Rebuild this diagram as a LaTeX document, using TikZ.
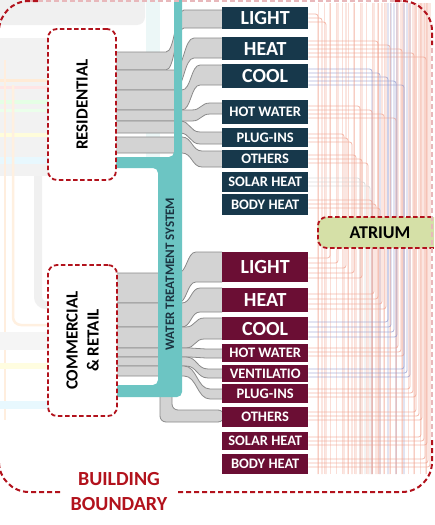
\documentclass[tikz,border=0pt]{standalone}
\usepackage{fontspec}
\setmainfont{Carlito}
\usetikzlibrary{calc}
\definecolor{navy}{HTML}{17384B}
\definecolor{maroon}{HTML}{6B0E34}
\definecolor{tealc}{HTML}{6CC5C3}
\definecolor{bred}{HTML}{B2121C}
\definecolor{gfill}{HTML}{D3D3D3}
\definecolor{gline}{HTML}{8A8A8A}
\definecolor{salm}{HTML}{F1A28E}
\definecolor{lav}{HTML}{929BD0}
\definecolor{atr}{HTML}{D5E0A7}
\definecolor{txtnavy}{HTML}{1B3340}
\newcommand\ribbon[7]{%
  \pgfmathsetmacro\rmx{(#4+#5)/2}%
  \fill[gfill] (#1,#2) -- (#4,#2) .. controls (\rmx,#2) and (\rmx,#6) .. (#5,#6) -- (#7,#6) -- (#7,#6+#3) -- (#5,#6+#3) .. controls (\rmx,#6+#3) and (\rmx,#2+#3) .. (#4,#2+#3) -- (#1,#2+#3) -- cycle;
  \draw[gline,line width=0.8] (#1,#2) -- (#4,#2) .. controls (\rmx,#2) and (\rmx,#6) .. (#5,#6) -- (#7,#6);
  \draw[gline,line width=0.8] (#1,#2+#3) -- (#4,#2+#3) .. controls (\rmx,#2+#3) and (\rmx,#6+#3) .. (#5,#6+#3) -- (#7,#6+#3);
}
\begin{document}
\begin{tikzpicture}[x=1pt,y=-1pt,
  box/.style={inner sep=0pt, minimum width=86, anchor=north west, text=white},
  big/.style={font=\fontsize{20}{20}\selectfont\bfseries},
  small/.style={font=\fontsize{14.5}{14.5}\selectfont\bfseries},
  dbox/.style={draw=bred, line width=1.8, dash pattern=on 4.5pt off 2.6pt, rounded corners=9, fill=white, inner sep=0pt},
  bdash/.style={draw=bred, line width=2, dash pattern=on 5pt off 3pt},
  fl/.style={line width=0.8, rounded corners=2.5, opacity=0.75}]
\clip (0,0) rectangle (434,525);
\fill[white] (0,0) rectangle (434,525);
% faded background
\fill[gray!12, rounded corners=8] (-10,-10) rectangle (145,25);
\fill[gray!10] (-5,38) rectangle (48,176);
\fill[tealc!13] (146,-5) rectangle (160,157);
\draw[orange!16, line width=3] (-5,80) -- (48,80);
\draw[red!10, line width=3] (-5,87) -- (48,87);
\draw[green!10, line width=4] (-5,102) -- (48,102);
\draw[green!8, line width=3] (-5,110) -- (48,110);
\draw[yellow!14, line width=4] (-5,135) -- (48,135);
\draw[cyan!9, line width=7] (-5,160) -- (48,160);
\draw[orange!13, line width=2.5] (5,60) -- (5,420);
\draw[orange!12, line width=2.5, rounded corners=8] (13,85) -- (13,325) -- (48,325);
\draw[gray!12, line width=8, rounded corners=8] (38,176) -- (38,305) -- (48,305);
\fill[gray!8] (-5,332) rectangle (48,350);
\draw[yellow!12, line width=6] (-5,366) -- (48,366);
\draw[cyan!9, line width=8] (-5,405) -- (48,405);
% right side thin flows (background verticals)
\foreach \x in {318,324,...,428} \draw[salm, line width=0.6, opacity=0.35] (\x,3) -- (\x,474);
% boxes (top)
\node[box,fill=navy,big,minimum height=22] (t1) at (222,7) {LIGHT};
\node[box,fill=navy,big,minimum height=23] (t2) at (222,37) {HEAT};
\node[box,fill=navy,big,minimum height=24] (t3) at (222,64) {COOL};
\node[box,fill=navy,small,minimum height=24] (t4) at (222,100) {HOT WATER};
\node[box,fill=navy,small,minimum height=19] (t5) at (222,128) {PLUG-INS};
\node[box,fill=navy,small,minimum height=18] (t6) at (222,150) {OTHERS};
\node[box,fill=navy,small,minimum height=20] (t7) at (222,172) {SOLAR HEAT};
\node[box,fill=navy,small,minimum height=21] (t8) at (222,194) {BODY HEAT};
% boxes (bottom)
\node[box,fill=maroon,big,minimum height=30] (b1) at (222,252) {LIGHT};
\node[box,fill=maroon,big,minimum height=24] (b2) at (222,288) {HEAT};
\node[box,fill=maroon,big,minimum height=23] (b3) at (222,317) {COOL};
\node[box,fill=maroon,small,minimum height=18] (b4) at (222,344) {HOT WATER};
\node[box,fill=maroon,small,minimum height=17] (b5) at (222,365) {VENTILATIO};
\node[box,fill=maroon,small,minimum height=19] (b6) at (222,384) {PLUG-INS};
\node[box,fill=maroon,small,minimum height=20] (b7) at (222,407) {OTHERS};
\node[box,fill=maroon,small,minimum height=18] (b8) at (222,432) {SOLAR HEAT};
\node[box,fill=maroon,small,minimum height=20] (b9) at (222,454) {BODY HEAT};
% bundles from top boxes, going down
\foreach \n/\c/\yy/\X in {t1/salm/14/318, t1/salm/18/322, t1/salm/22/326,
  t2/salm/41/378, t2/salm/45/390, t2/salm/49/402, t2/salm/53/414, t2/salm/57/426,
  t3/lav/69/372, t3/lav/73/380, t3/lav/77/388, t3/lav/81/396, t3/lav/85/404,
  t4/salm/106/360, t4/salm/110/372, t4/salm/114/384, t4/salm/118/396,
  t5/salm/134/344, t5/salm/138/348, t5/salm/142/352,
  t6/salm/155/356, t6/salm/159/362, t6/salm/163/368,
  t7/gray!35/178/360, t7/gray!35/182/365, t7/gray!35/186/370,
  t8/salm/200/372, t8/salm/204/376, t8/salm/208/380}
  \draw[\c, fl] (\n.east |- 0,\yy) -- (\X,\yy) -- (\X,474);
% bundles from bottom boxes, going up
\foreach \n/\c/\yy/\X in {b1/salm/258/330, b1/salm/263/338, b1/salm/268/346, b1/salm/273/354, b1/salm/278/362,
  b2/salm/294/374, b2/salm/299/378, b2/salm/304/382, b2/salm/309/386,
  b3/lav/322/388, b3/lav/327/391, b3/lav/332/394, b3/lav/337/397,
  b4/salm/348/398, b4/salm/352/401, b4/salm/356/404,
  b5/lav/369/404, b5/lav/373/407, b5/lav/377/410,
  b6/salm/389/410, b6/salm/393/413, b6/salm/397/416,
  b7/salm/412/416, b7/salm/416/419, b7/salm/420/422,
  b8/salm/437/421, b8/salm/441/424, b8/salm/445/427,
  b9/salm/459/425, b9/salm/463/428, b9/salm/467/430}
  \draw[\c, fl] (\n.east |- 0,\yy) -- (\X,\yy) -- (\X,3);
% gray flows: residential
\ribbon{110}{52}{18}{166}{184}{10}{222}
\ribbon{110}{70}{20}{174}{194}{38}{222}
\ribbon{110}{90}{20}{182}{200}{65}{222}
\ribbon{110}{110}{11}{192}{210}{103}{222}
\ribbon{110}{121}{12}{180}{200}{132}{222}
\ribbon{110}{137}{16}{182}{202}{151}{222}
% gray flows: commercial
\ribbon{110}{273}{30}{178}{196}{252}{222}
\ribbon{110}{303}{24}{182}{200}{288}{222}
\ribbon{110}{327}{21}{186}{204}{318}{222}
\ribbon{110}{348}{9}{190}{206}{349}{222}
\ribbon{110}{357}{9}{186}{208}{369}{222}
\ribbon{110}{366}{10}{184}{210}{389}{222}
\draw[gline, fill=gfill, line width=0.8, rounded corners=6] (160,380) -- (160,422) -- (224,422) -- (224,410) -- (172,410) -- (172,380);
% water treatment system
\fill[tealc, rounded corners=5] (174,-5) -- (182,-5) -- (182,397) -- (110,397) -- (110,385) -- (158,385) -- (158,168) -- (110,168) -- (110,157) -- (174,157) -- cycle;
\node[rotate=90, text=txtnavy, font=\fontsize{13}{13}\selectfont\bfseries] (wts) at (170,274) {WATER TREATMENT SYSTEM};
% redraw box faces over flow starts
\foreach \n in {t1,t2,t3,t4,t5,t6,t7,t8} \fill[navy] (\n.north west) rectangle (\n.south east);
\foreach \n in {b1,b2,b3,b4,b5,b6,b7,b8,b9} \fill[maroon] (\n.north west) rectangle (\n.south east);
\node[box,big,minimum height=22] at (t1.north west) {LIGHT};
\node[box,big,minimum height=23] at (t2.north west) {HEAT};
\node[box,big,minimum height=24] at (t3.north west) {COOL};
\node[box,small,minimum height=24] at (t4.north west) {HOT WATER};
\node[box,small,minimum height=19] at (t5.north west) {PLUG-INS};
\node[box,small,minimum height=18] at (t6.north west) {OTHERS};
\node[box,small,minimum height=20] at (t7.north west) {SOLAR HEAT};
\node[box,small,minimum height=21] at (t8.north west) {BODY HEAT};
\node[box,big,minimum height=30] at (b1.north west) {LIGHT};
\node[box,big,minimum height=24] at (b2.north west) {HEAT};
\node[box,big,minimum height=23] at (b3.north west) {COOL};
\node[box,small,minimum height=18] at (b4.north west) {HOT WATER};
\node[box,small,minimum height=17] at (b5.north west) {VENTILATIO};
\node[box,small,minimum height=19] at (b6.north west) {PLUG-INS};
\node[box,small,minimum height=20] at (b7.north west) {OTHERS};
\node[box,small,minimum height=18] at (b8.north west) {SOLAR HEAT};
\node[box,small,minimum height=20] at (b9.north west) {BODY HEAT};
% sector boxes
\node[dbox, minimum width=68, minimum height=151] (res) at (82,104.5) {};
\node[rotate=90, font=\fontsize{17}{17}\selectfont\bfseries] (restx) at (res.center) {RESIDENTIAL};
\node[dbox, minimum width=69, minimum height=151] (com) at (82.5,340.5) {};
\node[rotate=90, align=center, font=\fontsize{17}{21}\selectfont\bfseries] (comtx) at (com.center) {COMMERCIAL\\\& RETAIL};
% atrium
\node[dbox, fill=atr, minimum width=130, minimum height=31, anchor=west] (atrium) at (317,232.5) {};
\node[font=\fontsize{18}{18}\selectfont\bfseries] (atrtx) at (380,233) {ATRIUM};
% building boundary
\draw[bdash, draw=bred!30] (30,1) -- (402,1);
\draw[bdash, draw=bred!30] (432,32) -- (432,462);
\draw[bdash, rounded corners=30] (60,492) -- (-1,492) -- (-1,430);
\draw[bdash, rounded corners=30] (-1,60) -- (-1,1) -- (40,1);
\draw[bdash, rounded corners=30] (395,1) -- (432,1) -- (432,45);
\draw[bdash, rounded corners=30] (432,440) -- (432,492) -- (178,492);
\node[text=bred, align=center, font=\fontsize{20}{25}\selectfont\bfseries] (bb) at (119,492) {BUILDING\\BOUNDARY};
\end{tikzpicture}
\end{document}
